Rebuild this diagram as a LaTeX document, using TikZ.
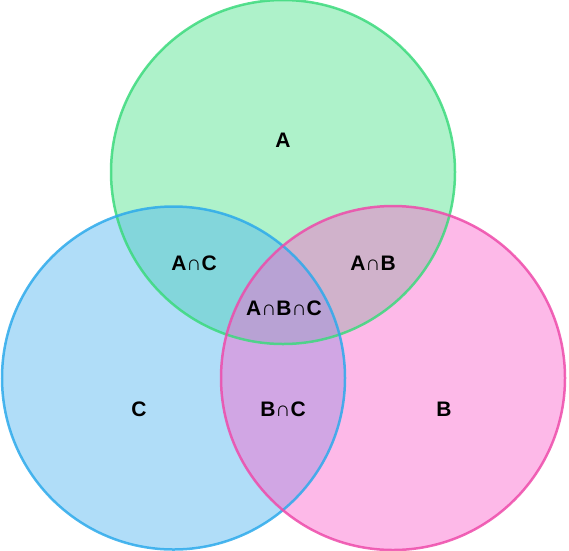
\documentclass[tikz,border=0pt]{standalone}
\usepackage{fontspec}
\setmainfont{Liberation Sans}
\begin{document}
\begin{tikzpicture}[x=1pt,y=-1pt,
  lab/.style={font=\fontsize{21}{24}\selectfont\bfseries,text=black},
  circ/.style={line width=2.5pt,fill opacity=0.45}]
\definecolor{gA}{RGB}{75,226,138}
\definecolor{sA}{RGB}{60,218,125}
\definecolor{gC}{RGB}{80,180,240}
\definecolor{sC}{RGB}{45,170,235}
\definecolor{gB}{RGB}{250,100,205}
\definecolor{sB}{RGB}{238,75,170}
\useasboundingbox (0,0) rectangle (569,550);
\fill[circ,gA] (283,172) circle (172);
\fill[circ,gC] (173.5,378) circle (171.5);
\fill[circ,gB] (393,378) circle (172);
\draw[line width=2.5pt,sA,opacity=0.85] (283,172) circle (172);
\draw[line width=2.5pt,sC,opacity=0.85] (173.5,378) circle (171.5);
\draw[line width=2.5pt,sB,opacity=0.85] (393,378) circle (172);
\node[lab] (a) at (283,140) {A};
\node[lab] (ac) at (194,263) {A∩C};
\node[lab] (ab) at (373,263) {A∩B};
\node[lab] (abc) at (284,308) {A∩B∩C};
\node[lab] (c) at (139,409) {C};
\node[lab] (bc) at (283,409) {B∩C};
\node[lab] (b) at (444,409) {B};
\end{tikzpicture}
\end{document}
